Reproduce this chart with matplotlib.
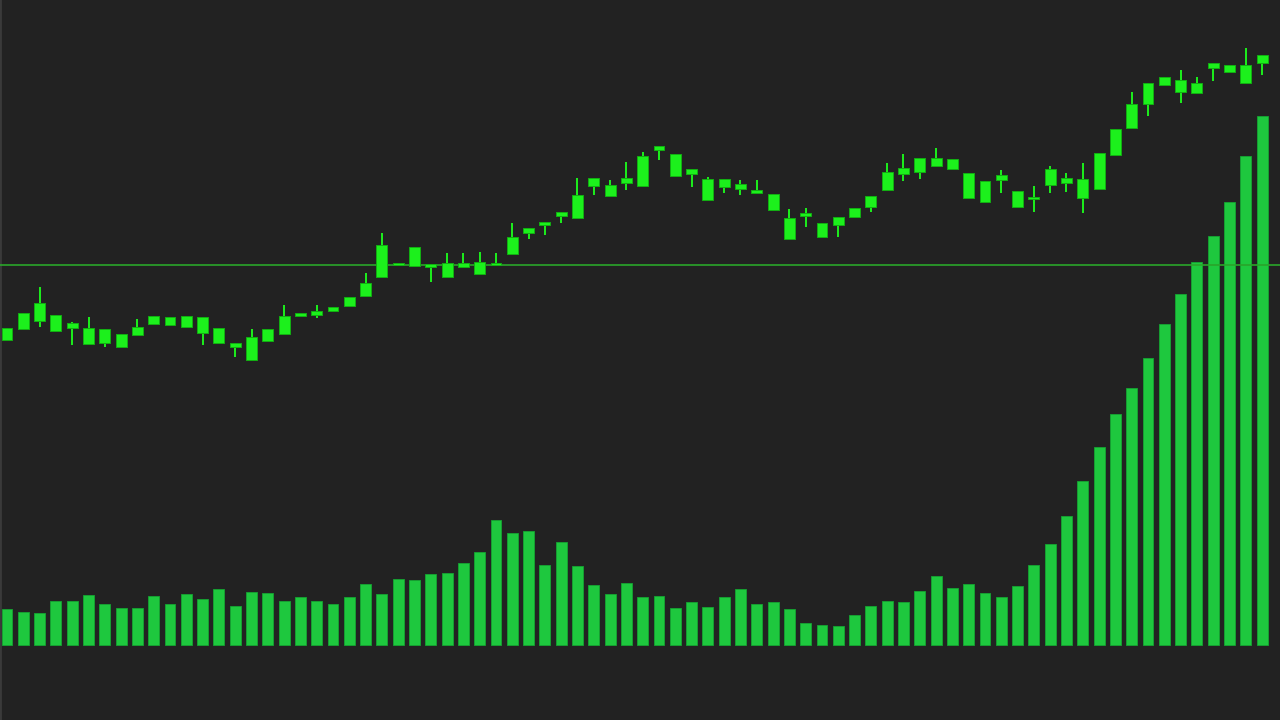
import matplotlib
matplotlib.use("Agg")
import matplotlib.pyplot as plt
import numpy as np

# candle data (78 sessions), price units
opens = [92.5, 93.6, 94.4, 95.0, 94.2, 93.7, 92.2, 93.1, 93.0, 94.1,
         94.8, 93.8, 94.8, 93.7, 92.2, 92.8, 92.4, 93.1, 94.9, 95.4,
         95.4, 95.9, 96.9, 98.8, 100.0, 101.8, 100.1, 98.8, 100.2, 99.1,
         100.2, 101.1, 103.2, 104.0, 104.9, 104.7, 107.9, 108.0, 108.2, 107.9,
         111.5, 111.1, 109.6, 108.6, 107.8, 108.1, 107.5, 107.1, 104.7, 104.9,
         104.2, 104.0, 104.8, 105.8, 107.5, 109.1, 109.3, 109.9, 110.6, 109.2,
         108.4, 108.5, 107.4, 106.6, 108.0, 108.7, 108.6, 107.6, 111.0, 113.7,
         116.1, 118.0, 118.5, 117.2, 119.7, 120.0, 118.2, 120.2]
closes = [93.7, 95.2, 96.2, 93.4, 93.7, 92.1, 93.6, 91.8, 93.8, 94.9,
          94.0, 94.9, 93.2, 92.2, 91.8, 90.5, 93.6, 94.9, 95.2, 95.0,
          95.8, 96.8, 98.2, 102.0, 100.0, 99.9, 99.8, 100.2, 99.8, 100.3,
          100.0, 102.8, 103.7, 104.3, 105.3, 107.0, 108.7, 106.9, 108.7, 110.9,
          111.9, 108.9, 109.1, 106.5, 108.6, 107.6, 107.2, 105.5, 102.6, 105.2,
          102.8, 104.8, 105.7, 106.9, 109.3, 109.7, 110.7, 110.7, 109.6, 106.7,
          106.3, 109.0, 105.8, 106.8, 109.6, 108.2, 106.7, 111.2, 113.6, 116.1,
          118.2, 118.8, 117.3, 118.2, 120.2, 119.3, 120.0, 121.0]
highs = [93.7, 95.2, 97.8, 95.0, 94.3, 94.8, 93.6, 93.1, 94.6, 94.9,
         94.8, 94.9, 94.8, 93.7, 92.2, 93.6, 93.6, 96.0, 95.2, 96.0,
         95.8, 96.8, 99.2, 103.2, 100.1, 101.8, 100.1, 101.2, 101.2, 101.3,
         101.2, 104.2, 103.7, 104.3, 105.3, 108.7, 108.7, 108.5, 110.3, 111.3,
         111.9, 111.1, 109.6, 108.8, 108.6, 108.5, 108.5, 107.1, 105.6, 105.7,
         104.2, 104.8, 105.7, 106.9, 110.2, 111.1, 110.7, 111.7, 110.6, 109.2,
         108.4, 109.5, 107.4, 107.9, 109.9, 109.2, 110.2, 111.2, 113.6, 117.3,
         118.2, 118.8, 119.5, 118.8, 120.2, 120.0, 121.7, 121.0]
lows = [92.5, 93.6, 93.8, 93.4, 92.0, 92.1, 91.8, 91.8, 93.0, 94.1,
        94.0, 93.8, 92.0, 92.2, 90.8, 90.5, 92.4, 93.1, 94.9, 94.7,
        95.4, 95.9, 96.9, 98.8, 99.9, 99.9, 98.3, 98.8, 99.8, 99.1,
        100.0, 101.1, 102.6, 103.0, 104.2, 104.7, 107.0, 106.9, 107.5, 107.9,
        110.5, 108.9, 107.8, 106.5, 107.2, 107.0, 107.2, 105.5, 102.6, 103.8,
        102.8, 102.8, 104.8, 105.3, 107.5, 108.4, 108.6, 109.9, 109.6, 106.7,
        106.3, 107.2, 105.8, 105.3, 107.2, 107.3, 105.2, 107.6, 111.0, 113.7,
        114.9, 118.0, 116.2, 117.2, 118.4, 119.3, 118.2, 119.0]
volumes = [360, 330, 320, 440, 440, 500, 410, 370, 370, 490,
           410, 510, 460, 560, 390, 530, 520, 440, 480, 440,
           410, 480, 610, 510, 660, 650, 710, 720, 820, 930,
           1250, 1120, 1140, 800, 1030, 790, 600, 510, 620, 480,
           490, 370, 430, 380, 480, 560, 410, 430, 360, 220,
           200, 190, 300, 390, 440, 430, 540, 690, 570, 610,
           520, 480, 590, 800, 1010, 1290, 1640, 1980, 2310, 2570,
           2870, 3210, 3510, 3830, 4090, 4430, 4890, 5290]
ref_level = 100.0

bg = "#222222"
candle_green = "#1cf01c"
volume_green = "#1ec83e"

x = np.arange(len(opens))
o = np.array(opens)
c = np.array(closes)

fig = plt.figure(figsize=(12.8, 7.2), dpi=100, facecolor=bg)
ax_vol = fig.add_axes([0, 0, 1, 1])
ax_vol.set_facecolor(bg)
ax_vol.bar(x, volumes, width=0.67, color=volume_green, edgecolor="#15a532", linewidth=0.6)
ax_vol.set_ylim(-750, 6450)

ax = ax_vol.twinx()
ax.patch.set_visible(False)
ax.axhline(ref_level, color="#2aa52a", linewidth=1.2, zorder=1)
body_lo = np.minimum(o, c)
body_h = np.maximum(np.abs(c - o), 0.15)
ax.vlines(x, lows, highs, color=candle_green, linewidth=1.4, zorder=2)
ax.bar(x, body_h, bottom=body_lo, width=0.67, color=candle_green,
       edgecolor="#12b012", linewidth=0.7, zorder=3)
ax.set_ylim(54.5, 126.5)

for a in (ax, ax_vol):
    a.set_xlim(-0.43, 78.1)
    a.set_xticks([])
    a.set_yticks([])
    for s in a.spines.values():
        s.set_visible(False)
ax_vol.spines["left"].set_visible(True)
ax_vol.spines["left"].set_color("#3a3a3a")
ax_vol.spines["left"].set_linewidth(2)

fig.savefig("out.png", dpi=100, facecolor=bg)
